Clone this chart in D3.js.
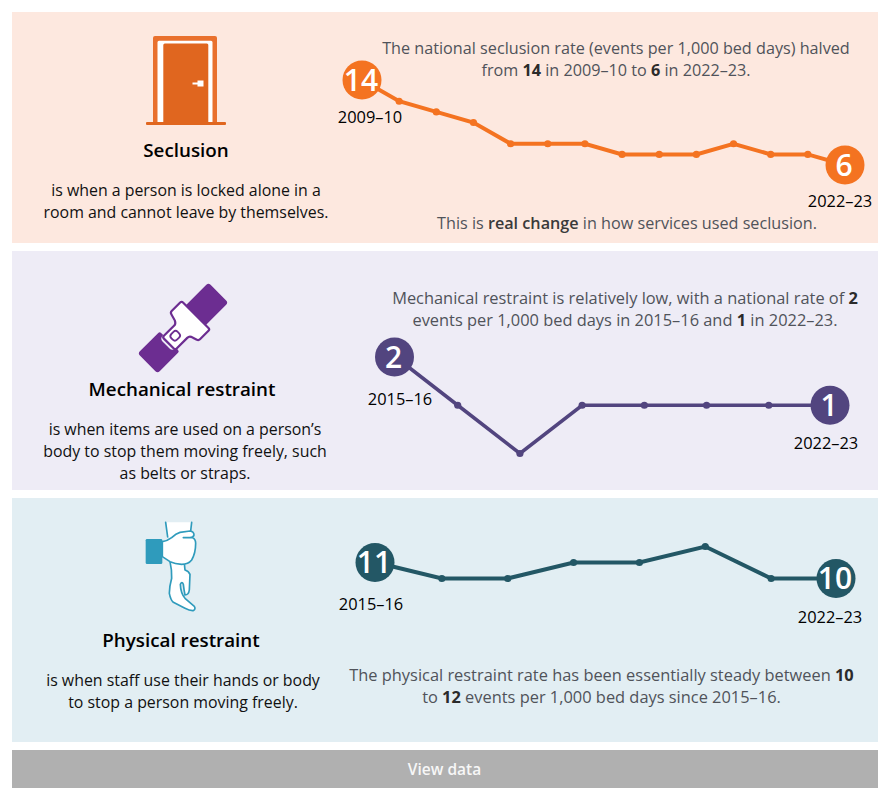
<!DOCTYPE html>
<html>
<head>
<meta charset="utf-8">
<title>Restrictive practices</title>
<script src="https://cdn.jsdelivr.net/npm/d3@7"></script>
<style>
  html, body { margin: 0; padding: 0; background: #fff; }
  svg { display: block; }
  text { font-family: "Open Sans", "Noto Sans", sans-serif; }
  .head { font-size: 18.8px; font-weight: 600; fill: #000; text-anchor: middle; }
  .desc { font-size: 15.9px; fill: #111; text-anchor: middle; }
  .note { font-size: 16.2px; fill: #50535a; text-anchor: middle; }
  .wide { font-size: 16.4px; }
  .note tspan.b { font-weight: 700; fill: #2b2b2b; }
  .note tspan.m { font-weight: 600; fill: #3a3a3a; }
  .year { font-size: 16.4px; fill: #000; text-anchor: middle; }
  .num { font-size: 30px; font-weight: 600; fill: #fff; text-anchor: middle; }
</style>
</head>
<body>
<div id="chart"></div>
<script>
// values
var seclusionYears = ["2009–10","2010–11","2011–12","2012–13","2013–14","2014–15","2015–16","2016–17","2017–18","2018–19","2019–20","2020–21","2021–22","2022–23"]
var seclusionRates = [14,12,11,10,8,8,8,7,7,7,8,7,7,6]
var restraintYears = ["2015–16","2016–17","2017–18","2018–19","2019–20","2020–21","2021–22","2022–23"]
var mechanicalRates = [2,1,0,1,1,1,1,1]
var physicalRates = [11,10,10,11,11,12,10,10]

var svg = d3.select("#chart").append("svg").attr("width", 890).attr("height", 800)

// draws one panel line with its two big end labels
function lineChart(cfg) {
  var x = d3.scalePoint().domain(cfg.years).range(cfg.xRange)
  var y = d3.scaleLinear().domain(cfg.yDomain).range(cfg.yRange)
  var line = d3.line().x(function(d, i) { return x(cfg.years[i]) }).y(function(d) { return y(d) })
  var g = svg.append("g")
  g.append("path").datum(cfg.values).attr("d", line)
    .attr("fill", "none").attr("stroke", cfg.color).attr("stroke-width", cfg.width)
  g.selectAll("circle.pt").data(cfg.values).enter().append("circle").attr("class", "pt")
    .attr("cx", function(d, i) { return x(cfg.years[i]) })
    .attr("cy", function(d) { return y(d) })
    .attr("r", 3.6).attr("fill", cfg.color)
  var last = cfg.values.length - 1
  ;[0, last].forEach(function(i) {
    var cx = x(cfg.years[i]) + (cfg.bubbleDx || 0), cy = y(cfg.values[i])
    g.append("circle").attr("cx", cx).attr("cy", cy).attr("r", 19.5).attr("fill", cfg.color)
    g.append("text").attr("class", "num").attr("x", cx - 1).attr("y", cy + 10.5).text(cfg.values[i])
    var lab = i == 0 ? cfg.firstLabel : cfg.lastLabel
    g.append("text").attr("class", "year").attr("x", lab[0]).attr("y", lab[1]).text(cfg.years[i])
  })
}

function textLines(cls, cx, lines, ys) {
  lines.forEach(function(parts, i) {
    var t = svg.append("text").attr("class", cls).attr("x", cx).attr("y", ys[i])
    parts.forEach(function(p) {
      var s = t.append("tspan").text(p[0])
      if (p[1]) s.attr("class", p[1] == 2 ? "m" : "b")
    })
  })
}

function panel(y, h, fill) {
  svg.append("rect").attr("x", 12).attr("y", y).attr("width", 866).attr("height", h).attr("fill", fill)
}

panel(12, 231, "#fde8df")
panel(251, 239, "#eeecf6")
panel(498, 244, "#e2eef3")

// door icon
var door = svg.append("g").attr("transform", "translate(120,20)")
door.append("path").attr("d", "M35.5 16h59.5q2 0 2 2v85h-64v-85q0-2 2-2z").attr("fill", "#e9702d")
door.append("path").attr("d", "M39 20.7h52q1.5 0 1.5 1.5v81h-55v-81q0-1.5 1.5-1.5z").attr("fill", "#fff")
door.append("rect").attr("x", 43.3).attr("y", 23.5).attr("width", 45).attr("height", 80).attr("rx", 1.5).attr("fill", "#e0661f")
door.append("rect").attr("x", 26).attr("y", 102).attr("width", 80).attr("height", 3).attr("rx", 1).attr("fill", "#e0661f")
door.append("path").attr("d", "M72.5 62.5h5v-2h6v6h-6v-2h-5z").attr("fill", "#fff")

// seatbelt icon
var belt = svg.append("g").attr("transform", "translate(183,328) rotate(-45)")
belt.append("rect").attr("x", 14).attr("y", -14).attr("width", 36).attr("height", 28).attr("rx", 3).attr("fill", "#6c2d91")
belt.append("path").attr("d", "M-47 -14h26q2 0 2 2v3q-5 0 -5 4v10q0 4 5 4v3q0 2 -2 2h-26q-3 0 -3 -3v-22q0 -3 3 -3z").attr("fill", "#6c2d91")
belt.append("path").attr("d", "M-19 -8h15q2 0 3.500 -3l2 -7q0.500 -2 2.500 -2h12q2 0 2 2v36q0 2 -2 2h-12q-2 0 -2.500 -2l-2 -6q-1 -2 -3.500 -2h-15q-2 0 -2 -2v-14q0 -2 2 -2z")
  .attr("fill", "#fff").attr("stroke", "#6c2d91").attr("stroke-width", 2.2)
belt.append("rect").attr("x", -15.5).attr("y", -4).attr("width", 9).attr("height", 8).attr("rx", 3)
  .attr("fill", "none").attr("stroke", "#6c2d91").attr("stroke-width", 1.8)

// hand icon, drawn in the 3x crop's units
var hand = svg.append("g").attr("transform", "translate(130,515) scale(0.3333)")
  .attr("stroke", "#2f9bbc").attr("stroke-width", 5).attr("stroke-linejoin", "round").attr("stroke-linecap", "round")
hand.append("path").attr("d", "M107 22H185L182 50L113 70Z").attr("fill", "#fff").attr("stroke", "none")
hand.append("path").attr("d", "M107 22L113 66M185 22L182 48").attr("fill", "none")
hand.append("path").attr("d", "M120 140Q126 165 125 190Q118 215 118 235Q122 255 130 262L165 280Q180 288 190 287Q198 282 193 274L165 250Q152 235 151 208Q156 198 160 208Q162 225 165 240Q176 240 178 225L180 178Q176 168 165 165L163 145Z").attr("fill", "#fff")
hand.append("path").attr("d", "M97 80Q112 78 125 68Q138 55 150 52L180 48Q192 50 192 60Q190 68 180 68H160H188Q197 72 197 85Q197 115 185 135Q175 148 155 148Q135 146 120 140L97 125Z").attr("fill", "#fff")
hand.append("rect").attr("x", 47).attr("y", 72).attr("width", 50).attr("height", 75).attr("rx", 4).attr("fill", "#2f9bbc").attr("stroke", "none")

// left column text
textLines("head", 186, [[["Seclusion"]]], [157])
textLines("desc", 186, [[["is when a person is locked alone in a"]], [["room and cannot leave by themselves."]]], [196, 218])
textLines("head", 182, [[["Mechanical restraint"]]], [396])
textLines("desc", 185, [[["is when items are used on a person’s"]], [["body to stop them moving freely, such"]], [["as belts or straps."]]], [435, 457, 479])
textLines("head", 181, [[["Physical restraint"]]], [647])
textLines("desc", 183, [[["is when staff use their hands or body"]], [["to stop a person moving freely."]]], [686, 708])

// notes
textLines("note", 616, [[["The national seclusion rate (events per 1,000 bed days) halved"]],
  [["from "], ["14", 1], [" in 2009–10 to "], ["6", 1], [" in 2022–23."]]], [54, 76])
textLines("note", 627, [[["This is "], ["real change", 2], [" in how services used seclusion."]]], [229])
textLines("note wide", 625, [[["Mechanical restraint is relatively low, with a national rate of "], ["2", 1]],
  [["events per 1,000 bed days in 2015–16 and "], ["1", 1], [" in 2022–23."]]], [304, 326])
textLines("note wide", 601.5, [[["The physical restraint rate has been essentially steady between "], ["10", 1]],
  [["to "], ["12", 1], [" events per 1,000 bed days since 2015–16."]]], [681, 703])

lineChart({ years: seclusionYears, values: seclusionRates, color: "#f47321", width: 4,
  xRange: [362, 845], yDomain: [6, 14], yRange: [165, 80], firstLabel: [370, 123], lastLabel: [840, 207] })
lineChart({ years: restraintYears, values: mechanicalRates, color: "#52457f", width: 3.5,
  xRange: [395.500, 831], bubbleDx: -1, yDomain: [0, 2], yRange: [453.5, 357], firstLabel: [400, 405], lastLabel: [826, 449] })
lineChart({ years: restraintYears, values: physicalRates, color: "#235765", width: 4,
  xRange: [376, 837], bubbleDx: -1, yDomain: [10, 12], yRange: [578.5, 546.5], firstLabel: [371, 610], lastLabel: [830, 623] })

// view data button
svg.append("rect").attr("x", 12).attr("y", 750).attr("width", 866).attr("height", 38).attr("fill", "#b0b0b0")
svg.append("text").attr("x", 444.5).attr("y", 774.5).attr("text-anchor", "middle")
  .attr("font-size", 15.5).attr("font-weight", 600).attr("fill", "#f7f7f7").text("View data")
</script>
</body>
</html>
